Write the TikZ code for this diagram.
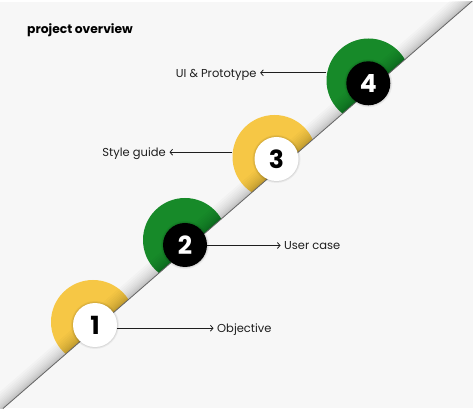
\documentclass[tikz,border=0pt]{standalone}
\usepackage{fontspec}
\setmainfont{Poppins}
\usetikzlibrary{arrows.meta,calc}
\definecolor{bgc}{HTML}{F7F7F7}
\definecolor{ylw}{HTML}{F6C745}
\definecolor{grn}{HTML}{178A29}
\definecolor{ink}{HTML}{1E1E1E}
\tikzset{
  big/.style={circle, minimum size=84pt, inner sep=0pt},
  num/.style={circle, minimum size=44pt, inner sep=0pt, font=\fontsize{25}{25}\selectfont\bfseries},
  lbl/.style={inner sep=0pt, font=\fontsize{11.5}{12}\selectfont, text=ink},
  arr/.style={draw=ink, line width=0.8pt, -{Straight Barb[length=2.6pt,width=6pt,line width=0.8pt]}}
}
\begin{document}
\begin{tikzpicture}[x=1pt,y=-1pt]
\useasboundingbox (0,0) rectangle (474,411);
\fill[white] (0,0) rectangle (474,411);
\fill[bgc] (0,2) rectangle (472.5,408.5);
% big half circles
\begin{scope}
  \clip (-27.2,434.7) -- (503.7,-26.2) -- (0,-30) -- (-30,-30) -- cycle;
  \node[big, fill=ylw] (b1) at (93,322) {};
  \node[big, fill=grn] (b2) at (185,240) {};
  \node[big, fill=ylw] (b3) at (274.5,157) {};
  \node[big, fill=grn] (b4) at (368.5,80.5) {};
\end{scope}
% shadow along the fold
\begin{scope}
  \clip (0,2) rectangle (472.5,408.5);
  \foreach \i in {1,...,14}{
    \pgfmathsetmacro\dd{0.075*\i*\i}
    \fill[black, opacity=0.02]
      (-27.2,434.7) -- (503.7,-26.2)
      -- ({503.7-0.6551*\dd},{-26.2-0.7555*\dd})
      -- ({-27.2-0.6551*\dd},{434.7-0.7555*\dd}) -- cycle;
  }
  \coordinate (fa) at (3,408.5);
  \coordinate (fb) at (473.5,0);
  \draw[line width=0.8pt, black!60] (fa) -- (fb);
\end{scope}
% small circles with soft shadow
\foreach \p in {(95,325),(185,245),(276.5,159),(368.3,83.3)}{
  \fill[black, opacity=0.05] \p circle (24);
  \fill[black, opacity=0.07] \p circle (23);
}
\node[num, fill=white, text=black] (n1) at (95,325) {1};
\node[num, fill=black, text=white] (n2) at (185,245) {2};
\node[num, fill=white, text=black] (n3) at (276.5,159) {3};
\node[num, fill=black, text=white] (n4) at (368.3,83.3) {4};
% title
\node[inner sep=0pt, anchor=base west, font=\fontsize{12.3}{13}\selectfont\bfseries, text=black] (title) at (27,34) {project overview};
% labels
\node[lbl, anchor=base east] (l4) at (256.7,77.3) {UI \& Prototype};
\node[lbl, anchor=base east] (l3) at (166,156.7) {Style guide};
\node[lbl, anchor=base west] (l2) at (284,250) {User case};
\node[lbl, anchor=base west] (l1) at (217,332.7) {Objective};
\coordinate (t4) at ($(l4.base east)+(3.5,-4.5)$);
\coordinate (t3) at ($(l3.base east)+(3.5,-4.5)$);
\coordinate (t2) at ($(l2.base west)+(-3.5,-4.5)$);
\coordinate (t1) at ($(l1.base west)+(-3.5,-4.5)$);
\draw[arr] (b4.west |- t4) -- (t4);
\draw[arr] (b3.west |- t3) -- (t3);
\draw[arr] (n2.east |- t2) -- (t2);
\draw[arr] (n1.east |- t1) -- (t1);
\end{tikzpicture}
\end{document}
